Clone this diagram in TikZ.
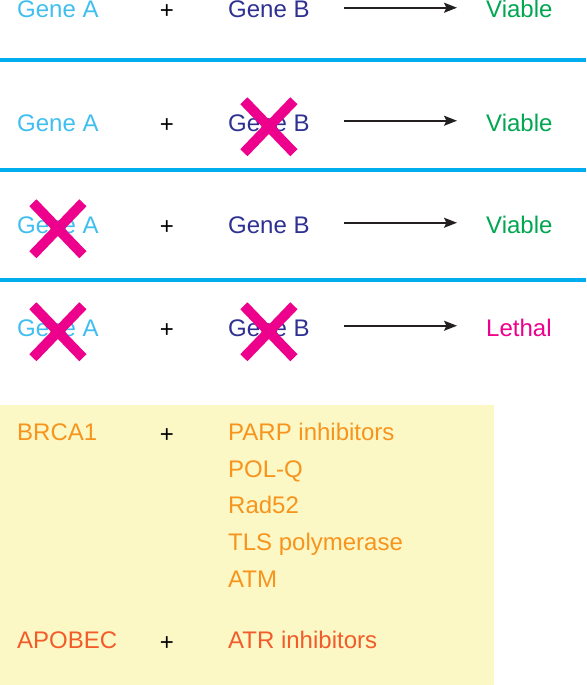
\documentclass[tikz,border=0pt]{standalone}
\usepackage{fontspec}
\setmainfont{Liberation Sans}
\usetikzlibrary{arrows.meta}

\definecolor{geneA}{RGB}{64,190,240}
\definecolor{geneB}{RGB}{46,49,146}
\definecolor{viable}{RGB}{0,166,81}
\definecolor{lethal}{RGB}{236,0,140}
\definecolor{rule}{RGB}{0,174,239}
\definecolor{boxfill}{RGB}{252,248,198}
\definecolor{brca}{RGB}{247,148,29}
\definecolor{apobec}{RGB}{241,92,42}
\definecolor{arrowgray}{RGB}{35,31,32}

\tikzset{
  lbl/.style={anchor=base west, inner sep=0pt, font=\fontsize{24}{29}\selectfont},
  plus/.style={anchor=base, inner sep=0pt, font=\fontsize{24}{29}\selectfont},
  arr/.style={arrowgray, line width=1.7pt, -{Stealth[length=13pt,width=10pt,inset=2.5pt]},
    shorten <=34pt, shorten >=29pt},
  sep/.style={rule, line width=4pt},
  cross/.style={lethal, line width=10pt}
}

\begin{document}
\begin{tikzpicture}[x=1pt,y=-1pt]
    \useasboundingbox (0,0) rectangle (586,685);
    \fill [boxfill] (0,405) rectangle (494,685);

    % rows of gene pairs
    \node [lbl, geneA] (a1) at (17,18) {Gene A};
    \node [plus] (p1) at (167,19) {+};
    \node [lbl, geneB] (b1) at (228,18) {Gene B};
    \node [lbl, viable] (r1) at (486,18) {Viable};

    \node [lbl, geneA] (a2) at (17,131) {Gene A};
    \node [plus] (p2) at (167,132) {+};
    \node [lbl, geneB] (b2) at (228,131) {Gene B};
    \node [lbl, viable] (r2) at (486,131) {Viable};

    \node [lbl, geneA] (a3) at (17,233) {Gene A};
    \node [plus] (p3) at (167,234) {+};
    \node [lbl, geneB] (b3) at (228,233) {Gene B};
    \node [lbl, viable] (r3) at (486,233) {Viable};

    \node [lbl, geneA] (a4) at (17,336) {Gene A};
    \node [plus] (p4) at (167,337) {+};
    \node [lbl, geneB] (b4) at (228,336) {Gene B};
    \node [lbl, lethal] (r4) at (486,336) {Lethal};

    \foreach \i in {1,...,4}
        \draw [arr] ([yshift=2pt]b\i.east) -- ([yshift=2pt]b\i.east -| r\i.west);

    % separators
    \draw [sep] (0,60) -- (586,60);
    \draw [sep] (0,170) -- (586,170);
    \draw [sep] (0,280) -- (586,280);

    % knocked out genes
    \foreach \g in {b2,a3,a4,b4} {
        \draw [cross] ([shift={(-25,-22)}]\g.center) -- ([shift={(25,30)}]\g.center);
        \draw [cross] ([shift={(-25,30)}]\g.center) -- ([shift={(25,-22)}]\g.center);
    }

    % synthetic lethal partners
    \node [lbl, brca] (brca1) at (17,440) {BRCA1};
    \node [plus] (p5) at (167,442) {+};
    \node [lbl, brca] (parp) at (228,440) {PARP inhibitors};
    \node [lbl, brca] (polq) at (228,477) {POL-Q};
    \node [lbl, brca] (rad52) at (228,513) {Rad52};
    \node [lbl, brca] (tls) at (228,550) {TLS polymerase};
    \node [lbl, brca] (atm) at (228,587) {ATM};

    \node [lbl, apobec] (apobec) at (17,648) {APOBEC};
    \node [plus] (p6) at (167,650) {+};
    \node [lbl, apobec] (atr) at (228,648) {ATR inhibitors};
\end{tikzpicture}
\end{document}
